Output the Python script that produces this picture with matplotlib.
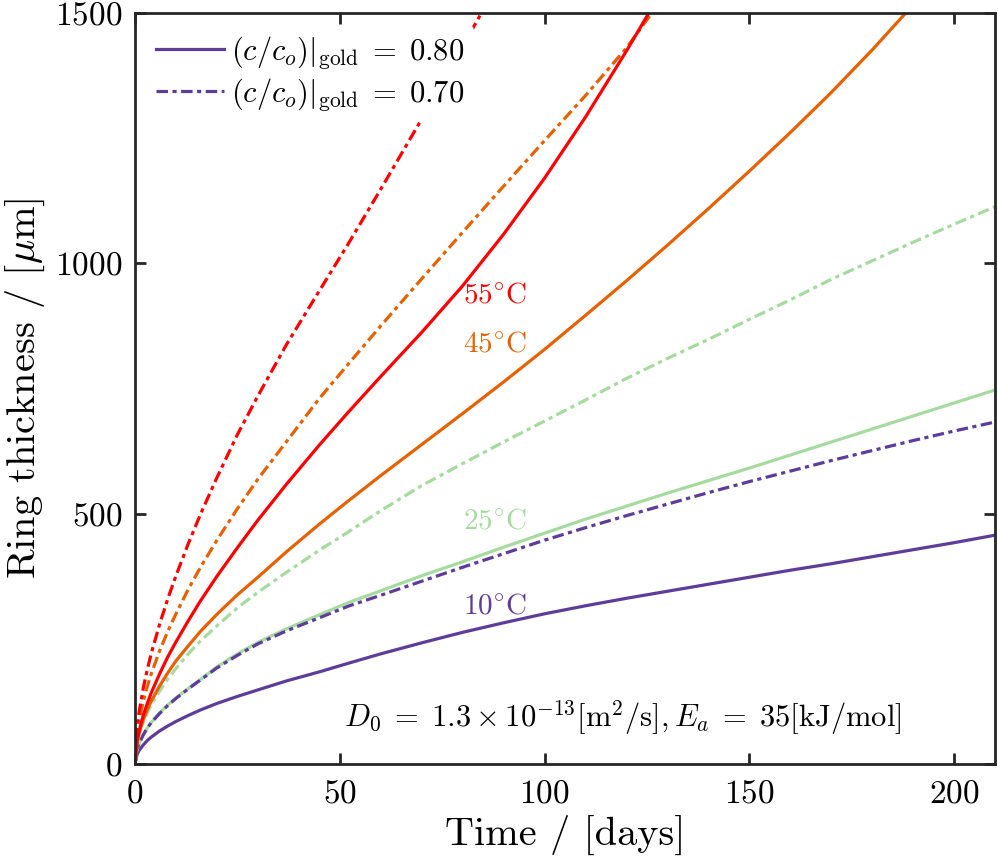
import matplotlib
matplotlib.use("Agg")
import matplotlib.pyplot as plt

plt.rcParams['font.family'] = 'cmr10'
plt.rcParams['mathtext.fontset'] = 'cm'
plt.rcParams['axes.formatter.use_mathtext'] = True

# ---- data ----
t_full = [0, 0.5, 1, 2, 3, 4, 6, 8, 10, 13, 16, 20, 25, 30, 37, 45, 52, 60, 70, 80,
          90, 100, 110, 120, 130, 140, 150, 160, 170, 180, 190, 200, 210]

v_10_080 = [0, 19, 27, 38, 47, 54, 66, 76, 85, 97, 108, 121, 135, 148, 166, 184, 201, 220, 242, 263,
            282, 300, 316, 331, 345, 359, 373, 387, 400, 414, 428, 442, 457]
v_10_070 = [0, 29, 41, 58, 72, 83, 101, 117, 131, 150, 168, 192, 217, 240, 266, 292, 315, 337, 365, 393,
            420, 447, 472, 496, 519, 542, 564, 585, 606, 626, 646, 665, 683]
v_25_080 = [0, 29, 41, 58, 72, 83, 102, 118, 132, 151, 169, 194, 220, 243, 270, 298, 322, 346, 376, 404,
            433, 461, 489, 515, 541, 566, 591, 617, 643, 669, 695, 721, 747]
v_25_070 = [0, 41, 58, 83, 102, 119, 146, 170, 191, 220, 246, 276, 312, 343, 383, 427, 463, 506, 556, 600,
            643, 685, 727, 770, 810, 848, 888, 927, 968, 1005, 1042, 1078, 1113]

t_45_080 = [0, 0.5, 1, 2, 3, 4, 6, 8, 10, 13, 16, 20, 25, 30, 37, 45, 52, 60, 70, 80,
            90, 100, 110, 120, 130, 140, 150, 160, 170, 180, 190]
v_45_080 = [0, 43, 62, 88, 109, 126, 156, 182, 206, 236, 265, 299, 338, 373, 424, 479, 525, 576, 638, 700,
            763, 828, 896, 965, 1036, 1109, 1184, 1261, 1341, 1426, 1516]

t_45_070 = [0, 0.5, 1, 2, 3, 4, 6, 8, 10, 13, 16, 20, 25, 30, 37, 45, 52, 60, 70, 80,
            90, 100, 110, 120, 128]
v_45_070 = [0, 60, 87, 125, 155, 181, 226, 265, 300, 349, 393, 447, 510, 569, 644, 730, 798, 875, 969, 1062,
            1154, 1245, 1335, 1430, 1520]

t_55_080 = [0, 0.5, 1, 2, 3, 4, 6, 8, 10, 13, 16, 20, 25, 30, 37, 45, 52, 60, 70, 80,
            90, 100, 110, 120, 128]
v_55_080 = [0, 46, 66, 97, 121, 143, 180, 214, 244, 286, 326, 375, 432, 487, 559, 637, 702, 774, 862, 955,
            1058, 1170, 1292, 1424, 1535]

t_55_070 = [0, 0.5, 1, 2, 3, 4, 6, 8, 10, 13, 16, 20, 25, 30, 37, 45, 52, 60, 70, 80, 87]
v_55_070 = [0, 72, 104, 151, 189, 222, 279, 330, 376, 440, 499, 572, 658, 735, 838, 945, 1038, 1148, 1288, 1433, 1535]

temp_labels = ['55$^{\\circ}$C', '45$^{\\circ}$C', '25$^{\\circ}$C', '10$^{\\circ}$C']
label_t = [80, 80, 80, 80]
label_v = [937, 839, 485, 315]

x_ticks = [0, 50, 100, 150, 200]
y_ticks = [0, 500, 1000, 1500]

# ---- style ----
c_purple = '#5e3c99'
c_green = '#a6dba0'
c_orange = '#e66101'
c_red = '#ff0000'
lw = 2.3
dd = (3.6, 1.4, 1.3, 1.4)

fig = plt.figure(figsize=(9.98, 8.63), dpi=100)
ax = fig.add_axes([0.1353, 0.1147, 0.8617, 0.8703])

l1, = ax.plot(t_full, v_10_080, color=c_purple, lw=lw,
              label=r'$(c/c_o)|_{\mathrm{gold}}\;=\;0.80$')
ax.plot(t_full, v_25_080, color=c_green, lw=lw)
l2, = ax.plot(t_full, v_10_070, color=c_purple, lw=lw, dashes=dd,
              label=r'$(c/c_o)|_{\mathrm{gold}}\;=\;0.70$')
ax.plot(t_full, v_25_070, color=c_green, lw=lw, dashes=dd)
ax.plot(t_45_080, v_45_080, color=c_orange, lw=lw)
ax.plot(t_45_070, v_45_070, color=c_orange, lw=lw, dashes=dd)
ax.plot(t_55_080, v_55_080, color=c_red, lw=lw)
ax.plot(t_55_070, v_55_070, color=c_red, lw=lw, dashes=dd)

for txt, tx, ty, col in zip(temp_labels, label_t, label_v, [c_red, c_orange, c_green, c_purple]):
    ax.text(tx, ty, txt, color=col, fontsize=21, ha='left', va='center')

ax.text(119, 92, r'$D_0\;=\;1.3\times10^{-13}[\mathrm{m}^2/\mathrm{s}], E_a\;=\;35[\mathrm{kJ/mol}]$',
        fontsize=22, ha='center', va='center', color='black')

ax.set_xlim(0, 210)
ax.set_ylim(0, 1500)
ax.set_xticks(x_ticks)
ax.set_yticks(y_ticks)
ax.tick_params(direction='in', length=8, width=2, labelsize=24, top=True, right=True,
               color='#262626')
ax.tick_params(axis='x', pad=11)
ax.tick_params(axis='y', pad=9)
for s in ax.spines.values():
    s.set_linewidth(2)
    s.set_color('#262626')

ax.set_xlabel('Time / [days]', fontsize=29, labelpad=5)
ax.set_ylabel(r'Ring thickness / [$\mu$m]', fontsize=29, labelpad=6)

leg = ax.legend(handles=[l1, l2], loc='upper left', fontsize=22, frameon=True,
                framealpha=1, edgecolor='none', handlelength=2.2, handletextpad=0.25,
                borderaxespad=0.4, labelspacing=0.15, borderpad=0.3)
leg.get_frame().set_linewidth(0)

fig.savefig('out.png', dpi=100)
